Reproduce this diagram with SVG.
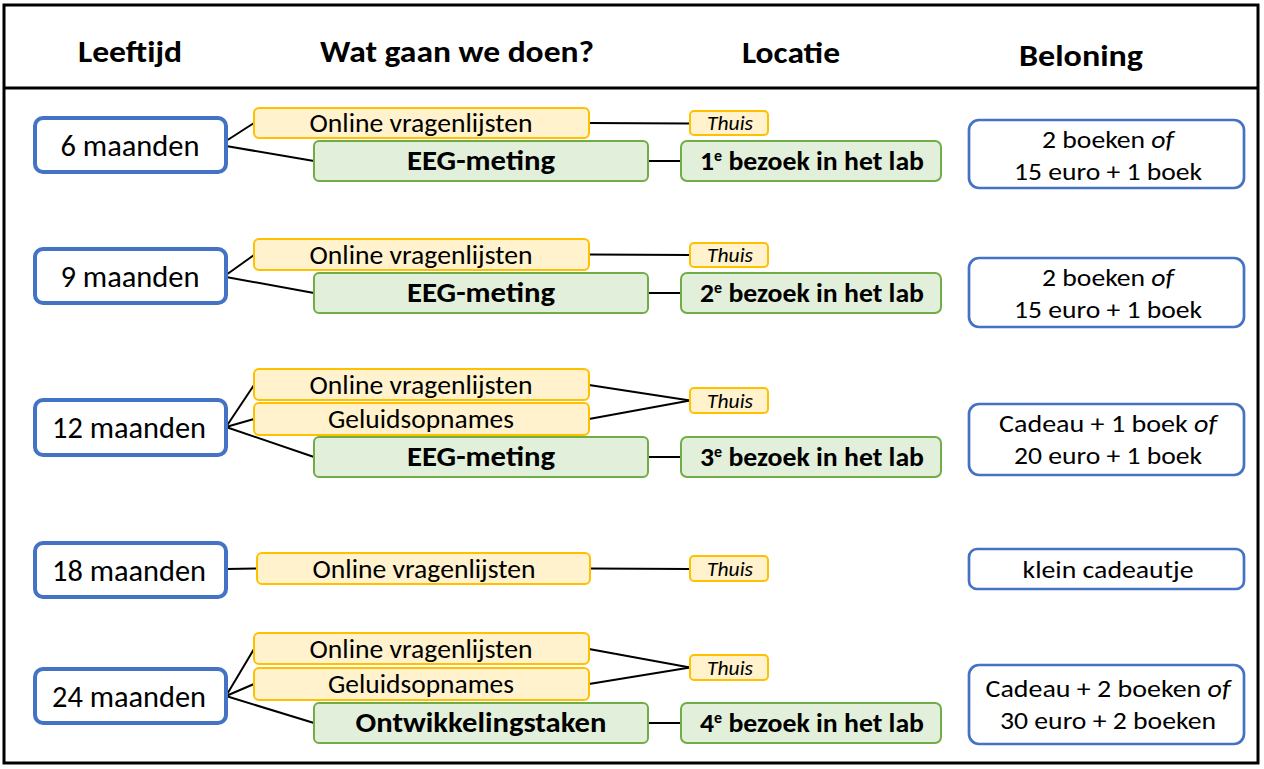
<svg xmlns="http://www.w3.org/2000/svg" width="1264" height="769" viewBox="0 0 1264 769">
<style>
text{font-family:Carlito,Lato,"Liberation Sans",sans-serif;fill:#000;text-anchor:middle}
.hdr{font-size:31px;font-weight:bold}
.age rect{fill:#fff;stroke:#4472C4;stroke-width:4}
.age text{font-size:30px}
.yel rect{fill:#FFF2CC;stroke:#FFC000;stroke-width:2}
.yel text{font-size:26px}
.thuis rect{fill:#FFF2CC;stroke:#FFC000;stroke-width:2}
.thuis text{font-size:20px;font-style:italic}
.grn rect{fill:#E2EFDA;stroke:#70AD47;stroke-width:2}
.grn text{font-size:29px;font-weight:bold}
.lab rect{fill:#E2EFDA;stroke:#70AD47;stroke-width:2}
.lab text{font-size:26px;font-weight:bold}
.sup{font-size:15px}
.rew rect{fill:#fff;stroke:#4472C4;stroke-width:2.7}
.rew text{font-size:25px}
.it{font-style:italic}
#connectors line{stroke:#000;stroke-width:2}
</style>
<rect x="0" y="0" width="1264" height="769" fill="#fff"/>
<g id="frame">
<rect x="4" y="5" width="1254" height="758" fill="none" stroke="#000" stroke-width="3"/>
<line x1="4" y1="88" x2="1258" y2="88" stroke="#000" stroke-width="3"/>
</g>
<g id="headers">
<text class="hdr" x="130" y="62" textLength="104" lengthAdjust="spacingAndGlyphs">Leeftijd</text>
<text class="hdr" x="457" y="62" textLength="274" lengthAdjust="spacingAndGlyphs">Wat gaan we doen?</text>
<text class="hdr" x="791" y="63" textLength="98" lengthAdjust="spacingAndGlyphs">Locatie</text>
<text class="hdr" x="1081" y="66" textLength="124" lengthAdjust="spacingAndGlyphs">Beloning</text>
</g>
<g id="connectors">
<line x1="226" y1="141" x2="254" y2="123"/>
<line x1="226" y1="146" x2="314" y2="161"/>
<line x1="589" y1="123" x2="690" y2="123.5"/>
<line x1="648" y1="161" x2="681" y2="161"/>
<line x1="226" y1="275" x2="254" y2="255"/>
<line x1="226" y1="277" x2="314" y2="293"/>
<line x1="589" y1="254.5" x2="690" y2="255"/>
<line x1="648" y1="293" x2="681" y2="293"/>
<line x1="226" y1="427" x2="254" y2="385"/>
<line x1="226" y1="427" x2="254" y2="419"/>
<line x1="226" y1="427" x2="314" y2="457"/>
<line x1="589" y1="385" x2="690" y2="400.5"/>
<line x1="589" y1="419" x2="690" y2="400.5"/>
<line x1="648" y1="457" x2="681" y2="457"/>
<line x1="226" y1="569" x2="257" y2="568.5"/>
<line x1="590" y1="568.5" x2="690" y2="569"/>
<line x1="226" y1="696" x2="254" y2="649"/>
<line x1="226" y1="696" x2="254" y2="684"/>
<line x1="226" y1="696" x2="314" y2="723"/>
<line x1="589" y1="649" x2="690" y2="667.5"/>
<line x1="589" y1="684" x2="690" y2="667.5"/>
<line x1="648" y1="723" x2="681" y2="723"/>
</g>
<!-- Row 1 -->
<g id="age6" class="age"><rect x="35" y="118" width="191" height="54" rx="8"/><text x="130" y="156" textLength="139" lengthAdjust="spacingAndGlyphs">6 maanden</text></g>
<g id="online6" class="yel"><rect x="254" y="108" width="335" height="30" rx="5"/><text x="421" y="132" textLength="223" lengthAdjust="spacingAndGlyphs">Online vragenlijsten</text></g>
<g id="eeg6" class="grn"><rect x="314" y="141" width="334" height="40" rx="5"/><text x="481" y="170" textLength="148" lengthAdjust="spacingAndGlyphs">EEG-meting</text></g>
<g id="thuis6" class="thuis"><rect x="690" y="111" width="78" height="24" rx="4"/><text x="730" y="130" textLength="46" lengthAdjust="spacingAndGlyphs">Thuis</text></g>
<g id="lab6" class="lab"><rect x="681" y="141" width="260" height="40" rx="6"/><text x="812" y="170" textLength="224" lengthAdjust="spacingAndGlyphs">1<tspan class="sup" dy="-9">e</tspan><tspan dy="9"> bezoek in het lab</tspan></text></g>
<g id="rew6" class="rew"><rect x="969" y="120" width="275" height="68" rx="10"/><text x="1108" y="148" textLength="132" lengthAdjust="spacingAndGlyphs">2 boeken <tspan class="it">of</tspan></text><text x="1108" y="180" textLength="188" lengthAdjust="spacingAndGlyphs">15 euro + 1 boek</text></g>
<!-- Row 2 -->
<g id="age9" class="age"><rect x="35" y="249" width="191" height="54" rx="8"/><text x="130" y="287" textLength="139" lengthAdjust="spacingAndGlyphs">9 maanden</text></g>
<g id="online9" class="yel"><rect x="254" y="239" width="335" height="31" rx="5"/><text x="421" y="263.5" textLength="223" lengthAdjust="spacingAndGlyphs">Online vragenlijsten</text></g>
<g id="eeg9" class="grn"><rect x="314" y="273" width="334" height="40" rx="5"/><text x="481" y="302" textLength="148" lengthAdjust="spacingAndGlyphs">EEG-meting</text></g>
<g id="thuis9" class="thuis"><rect x="690" y="243" width="78" height="24" rx="4"/><text x="730" y="262" textLength="46" lengthAdjust="spacingAndGlyphs">Thuis</text></g>
<g id="lab9" class="lab"><rect x="681" y="273" width="260" height="40" rx="6"/><text x="812" y="302" textLength="224" lengthAdjust="spacingAndGlyphs">2<tspan class="sup" dy="-9">e</tspan><tspan dy="9"> bezoek in het lab</tspan></text></g>
<g id="rew9" class="rew"><rect x="969" y="258" width="275" height="69" rx="10"/><text x="1108" y="286" textLength="132" lengthAdjust="spacingAndGlyphs">2 boeken <tspan class="it">of</tspan></text><text x="1108" y="318" textLength="188" lengthAdjust="spacingAndGlyphs">15 euro + 1 boek</text></g>
<!-- Row 3 -->
<g id="age12" class="age"><rect x="35" y="400" width="191" height="55" rx="8"/><text x="129" y="438" textLength="154" lengthAdjust="spacingAndGlyphs">12 maanden</text></g>
<g id="online12" class="yel"><rect x="254" y="369" width="335" height="31" rx="5"/><text x="421" y="393.5" textLength="223" lengthAdjust="spacingAndGlyphs">Online vragenlijsten</text></g>
<g id="geluid12" class="yel"><rect x="254" y="403" width="335" height="32" rx="5"/><text x="421" y="428" textLength="186" lengthAdjust="spacingAndGlyphs">Geluidsopnames</text></g>
<g id="eeg12" class="grn"><rect x="314" y="437" width="334" height="40" rx="5"/><text x="481" y="466" textLength="148" lengthAdjust="spacingAndGlyphs">EEG-meting</text></g>
<g id="thuis12" class="thuis"><rect x="690" y="388" width="78" height="25" rx="4"/><text x="730" y="407.5" textLength="46" lengthAdjust="spacingAndGlyphs">Thuis</text></g>
<g id="lab12" class="lab"><rect x="681" y="437" width="260" height="40" rx="6"/><text x="812" y="466" textLength="224" lengthAdjust="spacingAndGlyphs">3<tspan class="sup" dy="-9">e</tspan><tspan dy="9"> bezoek in het lab</tspan></text></g>
<g id="rew12" class="rew"><rect x="969" y="404" width="275" height="71" rx="10"/><text x="1108" y="432" textLength="218" lengthAdjust="spacingAndGlyphs">Cadeau + 1 boek <tspan class="it">of</tspan></text><text x="1108" y="464" textLength="188" lengthAdjust="spacingAndGlyphs">20 euro + 1 boek</text></g>
<!-- Row 4 -->
<g id="age18" class="age"><rect x="35" y="543" width="191" height="54" rx="8"/><text x="129" y="581" textLength="154" lengthAdjust="spacingAndGlyphs">18 maanden</text></g>
<g id="online18" class="yel"><rect x="257" y="553" width="333" height="31" rx="5"/><text x="424" y="577.5" textLength="223" lengthAdjust="spacingAndGlyphs">Online vragenlijsten</text></g>
<g id="thuis18" class="thuis"><rect x="690" y="556" width="78" height="25" rx="4"/><text x="730" y="575.5" textLength="46" lengthAdjust="spacingAndGlyphs">Thuis</text></g>
<g id="rew18" class="rew"><rect x="969" y="549" width="275" height="40" rx="8"/><text x="1108" y="578" textLength="171" lengthAdjust="spacingAndGlyphs">klein cadeautje</text></g>
<!-- Row 5 -->
<g id="age24" class="age"><rect x="35" y="669" width="191" height="54" rx="8"/><text x="129" y="707" textLength="154" lengthAdjust="spacingAndGlyphs">24 maanden</text></g>
<g id="online24" class="yel"><rect x="254" y="633" width="335" height="31" rx="5"/><text x="421" y="657.5" textLength="223" lengthAdjust="spacingAndGlyphs">Online vragenlijsten</text></g>
<g id="geluid24" class="yel"><rect x="254" y="668" width="335" height="32" rx="5"/><text x="421" y="693" textLength="186" lengthAdjust="spacingAndGlyphs">Geluidsopnames</text></g>
<g id="ontw24" class="grn"><rect x="314" y="703" width="334" height="40" rx="5"/><text x="481" y="732" textLength="251" lengthAdjust="spacingAndGlyphs">Ontwikkelingstaken</text></g>
<g id="thuis24" class="thuis"><rect x="690" y="655" width="78" height="25" rx="4"/><text x="730" y="674.5" textLength="46" lengthAdjust="spacingAndGlyphs">Thuis</text></g>
<g id="lab24" class="lab"><rect x="681" y="703" width="260" height="40" rx="6"/><text x="812" y="732" textLength="224" lengthAdjust="spacingAndGlyphs">4<tspan class="sup" dy="-9">e</tspan><tspan dy="9"> bezoek in het lab</tspan></text></g>
<g id="rew24" class="rew"><rect x="969" y="665" width="275" height="79" rx="10"/><text x="1108" y="697" textLength="245" lengthAdjust="spacingAndGlyphs">Cadeau + 2 boeken <tspan class="it">of</tspan></text><text x="1108" y="729" textLength="216" lengthAdjust="spacingAndGlyphs">30 euro + 2 boeken</text></g>
</svg>
